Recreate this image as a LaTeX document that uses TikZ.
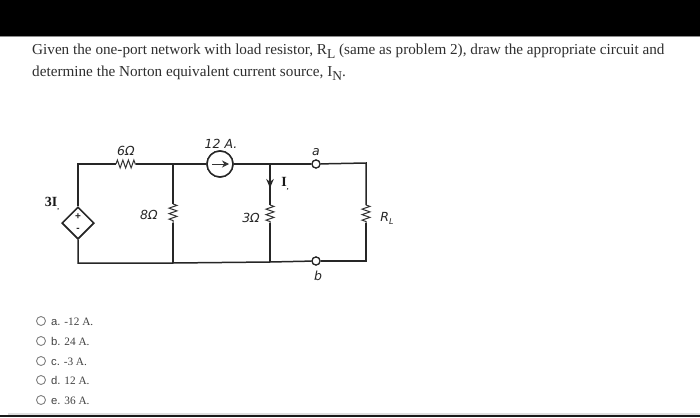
\documentclass[tikz,border=0pt]{standalone}
\usepackage{fontspec}
\setmainfont{Liberation Serif}
\setsansfont{Liberation Sans}
\newfontfamily\handfont[Scale=1]{DejaVu Sans}
\usetikzlibrary{decorations.pathmorphing,shapes.geometric,arrows.meta}
\newcommand{\lowsub}[1]{\raisebox{-3.5pt}{\fontsize{13.5pt}{14pt}\selectfont #1}}
\tikzset{
  x=1pt,y=-1pt,
  wire/.style={draw=black!85,line width=1.5pt},
  thinwire/.style={draw=black!80,line width=1pt},
  resh/.style={thinwire,decorate,decoration={zigzag,segment length=5.5pt,amplitude=4pt}},
  qtext/.style={anchor=base west,inner sep=0pt,text=black!82,font=\fontsize{15.2pt}{17pt}\selectfont},
  opt/.style={anchor=base west,inner sep=0pt,text=black!75,font=\fontsize{11.3pt}{13pt}\selectfont},
  radio/.style={circle,draw=black!50,line width=0.9pt,fill=white,minimum size=9pt,inner sep=0pt},
  hand/.style={inner sep=0pt,text=black!85,font=\handfont\itshape\fontsize{12.5pt}{14pt}\selectfont},
  handb/.style={inner sep=0pt,text=black!90,font=\bfseries\fontsize{14pt}{16pt}\selectfont},
  sign/.style={inner sep=0pt,text=black!85,font=\sffamily\bfseries\fontsize{10pt}{10pt}\selectfont},
  source/.style={circle,wire,fill=white,minimum size=26pt,inner sep=0pt},
  dep/.style={diamond,wire,fill=white,minimum width=32pt,minimum height=32pt,inner sep=0pt},
  term/.style={circle,draw=black!85,line width=1.2pt,fill=white,minimum size=8pt,inner sep=0pt}
}
\begin{document}
\begin{tikzpicture}
\useasboundingbox (0,0) rectangle (700,417);
\fill[black] (0,0) rectangle (700,36);
\fill[black!45] (0,36) rectangle (700,36.8);
\fill[black!90] (0,414.5) rectangle (700,417);
\fill[black!12] (8,413) rectangle (700,414.5);
% question
\node[qtext] (q1) at (32,55) {Given the one-port network with load resistor, R\lowsub{L} (same as problem 2), draw the appropriate circuit and};
\node[qtext] (q2) at (32,77) {determine the Norton equivalent current source, I\lowsub{N}.};
% circuit corners
\coordinate (tl) at (78,164);
\coordinate (bl) at (78,263);
\coordinate (t8) at (173,164);
\coordinate (b8) at (173,263);
\coordinate (t3) at (270,164);
\coordinate (b3) at (270,262);
\coordinate (tr) at (366,163);
\coordinate (br) at (366,261);
\node[dep] (dep) at (78,223) {};
\node[source] (cs) at (220,164) {};
\node[term] (a) at (316,164) {};
\node[term] (b) at (316,261) {};
\coordinate (r6a) at (116,164);
\coordinate (r6b) at (136,164);
\coordinate (r8a) at (173,204);
\coordinate (r8b) at (173,223);
\coordinate (r3a) at (270,205);
\coordinate (r3b) at (270,223);
\coordinate (rla) at (366,205);
\coordinate (rlb) at (366,223);
\coordinate (arr) at (270,188);
% wires
\draw[wire] (dep) -- (tl) -- (r6a);
\draw[wire] (r6b) -- (t8) -- (cs);
\draw[wire] (cs) -- (t3) -- (a);
\draw[wire] (a) -- (tr) -- (rla);
\draw[wire] (rlb) -- (br) -- (b);
\draw[wire] (b) -- (b3) -- (b8) -- (bl) -- (dep);
\draw[wire] (t8) -- (r8a);
\draw[wire] (r8b) -- (b8);
\draw[wire] (t3) -- (r3a);
\draw[wire] (r3b) -- (b3);
\draw[resh] (r6a) -- (r6b);
\draw[resh] (r8a) -- (r8b);
\draw[resh] (r3a) -- (r3b);
\draw[resh] (rla) -- (rlb);
% redraw symbols above wires
\node[dep] at (dep) {};
\node[source] at (cs) {};
\node[term] at (a) {};
\node[term] at (b) {};
\draw[thinwire,-{Stealth[length=7pt,width=7pt]}] ([xshift=-8pt]cs.center) -- ([xshift=9pt]cs.center);
\draw[-{Stealth[length=9pt,width=7.5pt]},black!85,line width=1.5pt] (t3) -- (arr);
\node[sign] (plus) at (78,217) {+};
\node[sign] (minus) at (78,230) {-};
% labels
\node[hand] (l6) at (126,151) {6Ω};
\node[hand] (l12) at (221,144) {12 A.};
\node[hand] (l8) at (149,215) {8Ω};
\node[hand] (l3) at (251,218) {3Ω};
\node[hand] (la) at (316,152) {a};
\node[hand] (lb) at (318,276) {b};
\node[hand] (lrl) at (387,218) {R\raisebox{-3pt}{\footnotesize L}};
\node[handb] (li1) at (285,184) {I\raisebox{-3pt}{\scriptsize ,}};
\node[handb] (li3) at (52,204) {3I\raisebox{-3pt}{\scriptsize ,}};
% options
\node[radio] (ra) at (41,321) {};
\node[radio] (rb) at (41,341) {};
\node[radio] (rc) at (41,361) {};
\node[radio] (rd) at (41,380) {};
\node[radio] (re) at (41,400) {};
\node[opt] (oa) at (51,325) {{\sffamily a.} -12 A.};
\node[opt] (ob) at (51,345) {{\sffamily b.} 24 A.};
\node[opt] (oc) at (51,365) {{\sffamily c.} -3 A.};
\node[opt] (od) at (51,384) {{\sffamily d.} 12 A.};
\node[opt] (oe) at (51,404) {{\sffamily e.} 36 A.};
\end{tikzpicture}
\end{document}
